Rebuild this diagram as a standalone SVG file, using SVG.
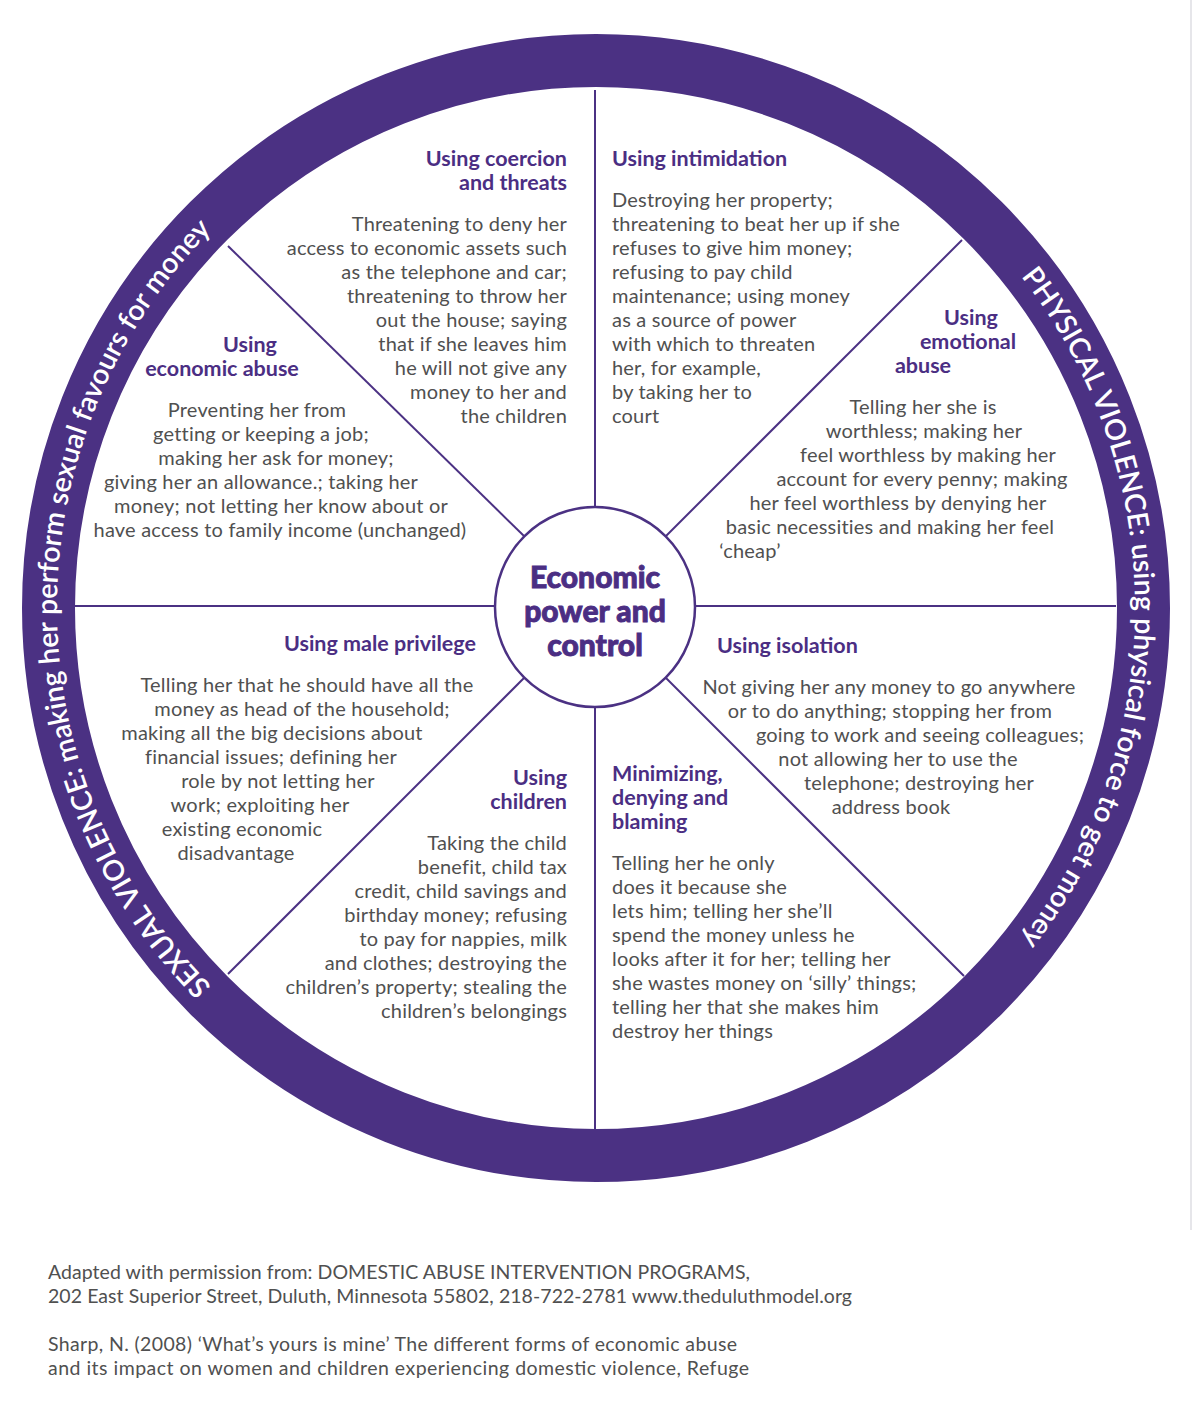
<svg xmlns="http://www.w3.org/2000/svg" width="1196" height="1406" viewBox="0 0 1196 1406">
<style>
.body{font-family:Lato,"Noto Sans",sans-serif;font-size:20px;letter-spacing:0.2px;fill:#505050}
.ttl{font-family:Lato,"Noto Sans",sans-serif;font-size:21.5px;font-weight:bold;fill:#4b2e83}
.r{text-anchor:end}
.m{text-anchor:middle}
.ring{font-family:Lato,"Noto Sans",sans-serif;font-size:28.6px;font-weight:600;fill:#ffffff}
.spoke{stroke:#4b3183;stroke-width:2;fill:none}
.foot{font-family:Lato,"Noto Sans",sans-serif;font-size:19.5px;fill:#505050}
</style>
<defs>
<path id="arcL" d="M596,1147 A539,539 0 0 1 596,69"/>
<path id="arcR" d="M596,69 A539,539 0 0 1 596,1147"/>
</defs>
<rect width="1196" height="1406" fill="#ffffff"/>
<line x1="1191" y1="0" x2="1191" y2="1230" stroke="#e6e6ea" stroke-width="2"/>
<g id="ring">
<circle cx="596" cy="608" r="547.5" fill="none" stroke="#4b3183" stroke-width="53"/>
<text class="ring"><textPath href="#arcL" startOffset="50%" text-anchor="middle">SEXUAL VIOLENCE: making her perform sexual favours for money</textPath></text>
<text class="ring"><textPath href="#arcR" startOffset="50%" text-anchor="middle">PHYSICAL VIOLENCE: using physical force to get money</textPath></text>
</g>
<g id="connectors">
<line class="spoke" x1="595" y1="90" x2="595" y2="507"/>
<line class="spoke" x1="595" y1="707" x2="595" y2="1132"/>
<line class="spoke" x1="73" y1="606" x2="495" y2="606"/>
<line class="spoke" x1="695" y1="606" x2="1116" y2="606"/>
<line class="spoke" x1="524" y1="536" x2="228" y2="246"/>
<line class="spoke" x1="666" y1="536" x2="962" y2="240"/>
<line class="spoke" x1="524" y1="678" x2="228" y2="974"/>
<line class="spoke" x1="666" y1="678" x2="964" y2="976"/>
</g>
<g id="center">
<circle cx="595" cy="607" r="100" fill="#ffffff" stroke="#4b3183" stroke-width="2.5"/>
<text class="m" font-family="Lato,'Noto Sans',sans-serif" font-size="30" font-weight="900" fill="#4b2e83" stroke="#4b2e83" stroke-width="0.9"><tspan x="595" y="588">Economic</tspan><tspan x="595" y="622">power and</tspan><tspan x="595" y="656">control</tspan></text>
</g>
<g id="coercion">
<text class="ttl r"><tspan x="567" y="166">Using coercion</tspan><tspan x="567" y="190">and threats</tspan></text>
<text class="body r"><tspan x="567" y="231">Threatening to deny her</tspan><tspan x="567" y="255">access to economic assets such</tspan><tspan x="567" y="279">as the telephone and car;</tspan><tspan x="567" y="303">threatening to throw her</tspan><tspan x="567" y="327">out the house; saying</tspan><tspan x="567" y="351">that if she leaves him</tspan><tspan x="567" y="375">he will not give any</tspan><tspan x="567" y="399">money to her and</tspan><tspan x="567" y="423">the children</tspan></text>
</g>
<g id="intimidation">
<text class="ttl" x="612" y="166">Using intimidation</text>
<text class="body"><tspan x="612" y="207">Destroying her property;</tspan><tspan x="612" y="231">threatening to beat her up if she</tspan><tspan x="612" y="255">refuses to give him money;</tspan><tspan x="612" y="279">refusing to pay child</tspan><tspan x="612" y="303">maintenance; using money</tspan><tspan x="612" y="327">as a source of power</tspan><tspan x="612" y="351">with which to threaten</tspan><tspan x="612" y="375">her, for example,</tspan><tspan x="612" y="399">by taking her to</tspan><tspan x="612" y="423">court</tspan></text>
</g>
<g id="emotional">
<text class="ttl m"><tspan x="971" y="325">Using</tspan><tspan x="968" y="349">emotional</tspan><tspan x="923" y="373">abuse</tspan></text>
<text class="body m"><tspan x="923" y="414">Telling her she is</tspan><tspan x="924" y="438">worthless; making her</tspan><tspan x="928" y="462">feel worthless by making her</tspan><tspan x="922" y="486">account for every penny; making</tspan><tspan x="898" y="510">her feel worthless by denying her</tspan><tspan x="890" y="534">basic necessities and making her feel</tspan><tspan x="750" y="558">‘cheap’</tspan></text>
</g>
<g id="economic">
<text class="ttl m"><tspan x="250" y="352">Using</tspan><tspan x="222" y="376">economic abuse</tspan></text>
<text class="body m"><tspan x="257" y="417">Preventing her from</tspan><tspan x="261" y="441">getting or keeping a job;</tspan><tspan x="276" y="465">making her ask for money;</tspan><tspan x="261" y="489">giving her an allowance.; taking her</tspan><tspan x="281" y="513">money; not letting her know about or</tspan><tspan x="280" y="537">have access to family income (unchanged)</tspan></text>
</g>
<g id="privilege">
<text class="ttl r" x="476" y="651">Using male privilege</text>
<text class="body m"><tspan x="307" y="692">Telling her that he should have all the</tspan><tspan x="302" y="716">money as head of the household;</tspan><tspan x="272" y="740">making all the big decisions about</tspan><tspan x="271" y="764">financial issues; defining her</tspan><tspan x="278" y="788">role by not letting her</tspan><tspan x="260" y="812">work; exploiting her</tspan><tspan x="242" y="836">existing economic</tspan><tspan x="236" y="860">disadvantage</tspan></text>
</g>
<g id="isolation">
<text class="ttl" x="717" y="653">Using isolation</text>
<text class="body m"><tspan x="889" y="694">Not giving her any money to go anywhere</tspan><tspan x="890" y="718">or to do anything; stopping her from</tspan><tspan x="920" y="742">going to work and seeing colleagues;</tspan><tspan x="898" y="766">not allowing her to use the</tspan><tspan x="919" y="790">telephone; destroying her</tspan><tspan x="891" y="814">address book</tspan></text>
</g>
<g id="children">
<text class="ttl r"><tspan x="567" y="785">Using</tspan><tspan x="567" y="809">children</tspan></text>
<text class="body r"><tspan x="567" y="850">Taking the child</tspan><tspan x="567" y="874">benefit, child tax</tspan><tspan x="567" y="898">credit, child savings and</tspan><tspan x="567" y="922">birthday money; refusing</tspan><tspan x="567" y="946">to pay for nappies, milk</tspan><tspan x="567" y="970">and clothes; destroying the</tspan><tspan x="567" y="994">children’s property; stealing the</tspan><tspan x="567" y="1018">children’s belongings</tspan></text>
</g>
<g id="minimizing">
<text class="ttl"><tspan x="612" y="781">Minimizing,</tspan><tspan x="612" y="805">denying and</tspan><tspan x="612" y="829">blaming</tspan></text>
<text class="body"><tspan x="612" y="870">Telling her he only</tspan><tspan x="612" y="894">does it because she</tspan><tspan x="612" y="918">lets him; telling her she’ll</tspan><tspan x="612" y="942">spend the money unless he</tspan><tspan x="612" y="966">looks after it for her; telling her</tspan><tspan x="612" y="990">she wastes money on ‘silly’ things;</tspan><tspan x="612" y="1014">telling her that she makes him</tspan><tspan x="612" y="1038">destroy her things</tspan></text>
</g>
<g id="footer">
<text class="foot" x="48" y="1279" textLength="702" lengthAdjust="spacing">Adapted with permission from: DOMESTIC ABUSE INTERVENTION PROGRAMS,</text>
<text class="foot" x="48" y="1303" textLength="804" lengthAdjust="spacing">202 East Superior Street, Duluth, Minnesota 55802, 218-722-2781 www.theduluthmodel.org</text>
<text class="foot" x="48" y="1351" textLength="689" lengthAdjust="spacing">Sharp, N. (2008) ‘What’s yours is mine’ The different forms of economic abuse</text>
<text class="foot" x="48" y="1375" textLength="701" lengthAdjust="spacing">and its impact on women and children experiencing domestic violence, Refuge</text>
</g>
</svg>
